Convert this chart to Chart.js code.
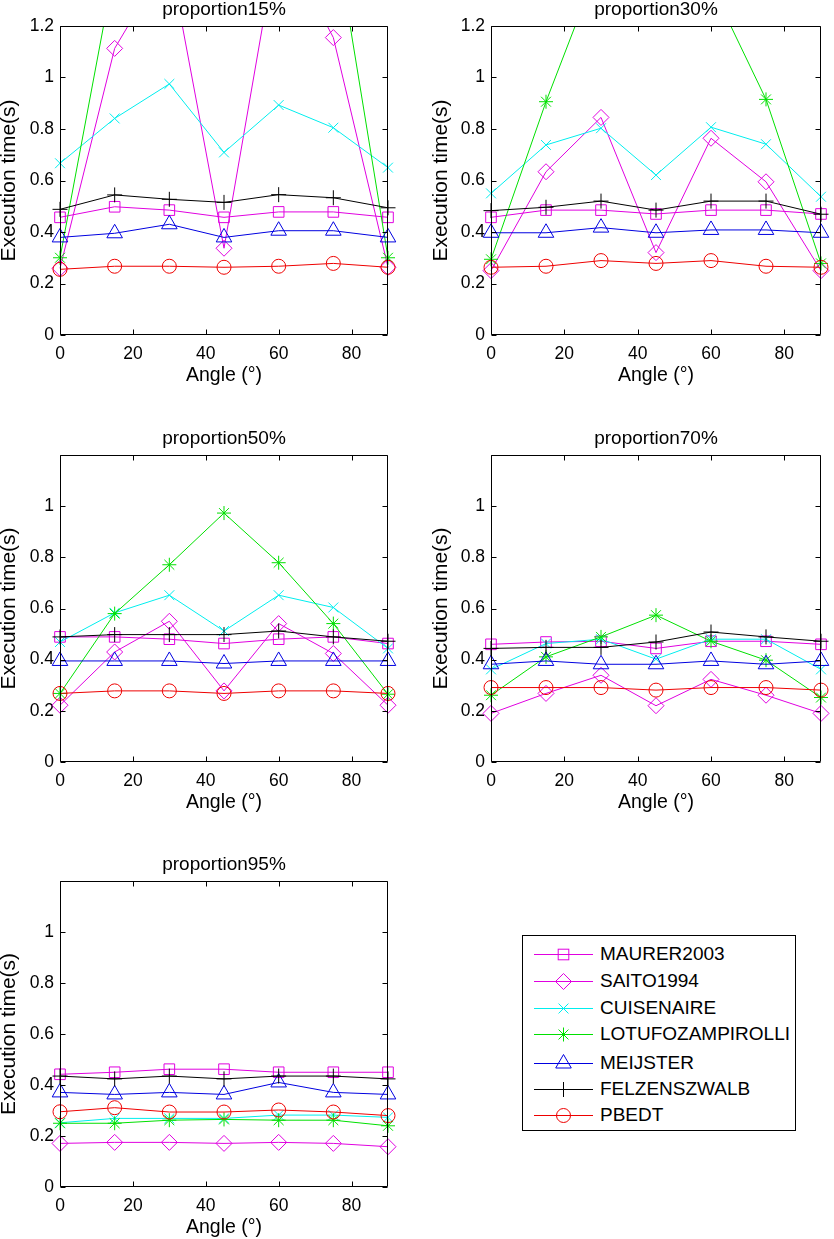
<!DOCTYPE html>
<html>
<head>
<meta charset="utf-8">
<script src="https://cdn.jsdelivr.net/npm/chart.js@4/dist/chart.umd.min.js"></script>
<style>
  body { margin: 0; background: #fff; width: 834px; height: 1239px; position: relative; overflow: hidden;
         font-family: "Liberation Sans", Arial, sans-serif; }
  .panel { position: absolute; }
  #legend { position: absolute; left: 522px; top: 935px; width: 272px; height: 194px;
            border: 1px solid #000; background: #fff; }
  .row { position: absolute; left: 0; height: 26px; width: 272px; }
  .row svg { position: absolute; left: 0; top: 0; }
  .row span { position: absolute; left: 77px; top: 0; line-height: 26px; font-size: 19px; color: #000; }
</style>
</head>
<body>
<div class="panel" style="left:0;top:0;width:400px;height:385px"><canvas id="c15"></canvas></div>
<div class="panel" style="left:432px;top:0;width:402px;height:385px"><canvas id="c30"></canvas></div>
<div class="panel" style="left:0;top:429px;width:400px;height:383px"><canvas id="c50"></canvas></div>
<div class="panel" style="left:432px;top:429px;width:402px;height:383px"><canvas id="c70"></canvas></div>
<div class="panel" style="left:0;top:855px;width:400px;height:382px"><canvas id="c95"></canvas></div>
<div id="legend"></div>

<script>
const FONT = "'Liberation Sans', Arial, sans-serif";

const angles = [0, 15, 30, 45, 60, 75, 90];
const methods = ["MAURER2003", "SAITO1994", "CUISENAIRE", "LOTUFOZAMPIROLLI", "MEIJSTER", "FELZENSZWALB", "PBEDT"];
const yTicks = [0, 0.2, 0.4, 0.6, 0.8, 1, 1.2];
const xTicks = [0, 20, 40, 60, 80];

// proportion 15%
const maurer15 = [0.457, 0.498, 0.485, 0.457, 0.478, 0.478, 0.457];
const saito15 = [0.259, 1.113, 1.47, 0.337, 1.56, 1.155, 0.263];
const cuisenaire15 = [0.667, 0.841, 0.975, 0.709, 0.893, 0.805, 0.650];
const lotufo15 = [0.30, 1.43, 1.9, 2.1, 1.9, 1.60, 0.30];
const meijster15 = [0.379, 0.395, 0.43, 0.379, 0.405, 0.405, 0.379];
const felz15 = [0.488, 0.544, 0.527, 0.515, 0.545, 0.533, 0.494];
const pbedt15 = [0.255, 0.267, 0.267, 0.263, 0.267, 0.278, 0.263];

// proportion 30%
const maurer30 = [0.457, 0.485, 0.485, 0.47, 0.485, 0.485, 0.47];
const saito30 = [0.25, 0.634, 0.845, 0.32, 0.764, 0.595, 0.25];
const cuisenaire30 = [0.55, 0.738, 0.803, 0.621, 0.807, 0.741, 0.537];
const lotufo30 = [0.294, 0.906, 1.46, 1.7, 1.36, 0.915, 0.278];
const meijster30 = [0.397, 0.397, 0.417, 0.397, 0.408, 0.408, 0.397];
const felz30 = [0.483, 0.496, 0.52, 0.485, 0.52, 0.52, 0.469];
const pbedt30 = [0.263, 0.267, 0.289, 0.278, 0.289, 0.267, 0.263];

// proportion 50%
const maurer50 = [0.489, 0.489, 0.48, 0.463, 0.48, 0.489, 0.463];
const saito50 = [0.222, 0.43, 0.55, 0.278, 0.541, 0.424, 0.222];
const cuisenaire50 = [0.469, 0.583, 0.652, 0.512, 0.652, 0.604, 0.444];
const lotufo50 = [0.268, 0.58, 0.771, 0.973, 0.779, 0.541, 0.265];
const meijster50 = [0.395, 0.395, 0.395, 0.385, 0.395, 0.395, 0.395];
const felz50 = [0.489, 0.498, 0.498, 0.498, 0.512, 0.489, 0.472];
const pbedt50 = [0.268, 0.278, 0.278, 0.268, 0.278, 0.278, 0.268];

// proportion 70%
const maurer70 = [0.46, 0.469, 0.472, 0.444, 0.472, 0.472, 0.46];
const saito70 = [0.19, 0.268, 0.339, 0.22, 0.323, 0.261, 0.19];
const cuisenaire70 = [0.362, 0.463, 0.48, 0.402, 0.48, 0.48, 0.362];
const lotufo70 = [0.261, 0.411, 0.489, 0.574, 0.472, 0.398, 0.252];
const meijster70 = [0.382, 0.395, 0.382, 0.382, 0.395, 0.382, 0.395];
const felz70 = [0.444, 0.448, 0.448, 0.469, 0.508, 0.489, 0.472];
const pbedt70 = [0.291, 0.291, 0.291, 0.281, 0.291, 0.291, 0.281];

// proportion 95%
const maurer95 = [0.442, 0.45, 0.462, 0.462, 0.45, 0.45, 0.45];
const saito95 = [0.171, 0.175, 0.175, 0.171, 0.175, 0.171, 0.158];
const cuisenaire95 = [0.252, 0.269, 0.269, 0.269, 0.282, 0.282, 0.273];
const lotufo95 = [0.25, 0.25, 0.262, 0.265, 0.262, 0.262, 0.24];
const meijster95 = [0.371, 0.363, 0.371, 0.363, 0.41, 0.371, 0.363];
const felz95 = [0.435, 0.424, 0.435, 0.424, 0.435, 0.435, 0.424];
const pbedt95 = [0.295, 0.311, 0.294, 0.294, 0.302, 0.294, 0.28];

// line colour and marker for each method (same order as methods)
const styles = [
  { color: "#e000e0", point: "rect", r: 7.5 },
  { color: "#e000e0", point: "rectRot", r: 8 },
  { color: "#00eeee", point: "crossRot", r: 7 },
  { color: "#00e000", point: "star", r: 7 },
  { color: "#0000e0", point: "triangle", r: 9 },
  { color: "#000000", point: "cross", r: 7.5 },
  { color: "#ee0000", point: "circle", r: 7 }
];

const panels = [
  { id: "c15", title: "proportion15%", axisW: 60, padRight: 12, showTop: true,
    series: [maurer15, saito15, cuisenaire15, lotufo15, meijster15, felz15, pbedt15] },
  { id: "c30", title: "proportion30%", axisW: 59, padRight: 13, showTop: true,
    series: [maurer30, saito30, cuisenaire30, lotufo30, meijster30, felz30, pbedt30] },
  { id: "c50", title: "proportion50%", axisW: 60, padRight: 12, showTop: false,
    series: [maurer50, saito50, cuisenaire50, lotufo50, meijster50, felz50, pbedt50] },
  { id: "c70", title: "proportion70%", axisW: 59, padRight: 13, showTop: false,
    series: [maurer70, saito70, cuisenaire70, lotufo70, meijster70, felz70, pbedt70] },
  { id: "c95", title: "proportion95%", axisW: 60, padRight: 12, showTop: false,
    series: [maurer95, saito95, cuisenaire95, lotufo95, meijster95, felz95, pbedt95] }
];

// matlab style box with inward ticks on all four sides
const boxTicks = {
  id: "boxTicks",
  afterDatasetsDraw(chart) {
    const { ctx, chartArea: a, scales: { x, y } } = chart;
    const L = Math.round(a.left) + 0.5, R = Math.round(a.right) - 0.5;
    const T = Math.round(a.top) + 0.5, B = Math.round(a.bottom) - 0.5;
    ctx.save();
    ctx.strokeStyle = "#000";
    ctx.lineWidth = 1;
    ctx.beginPath();
    ctx.rect(L, T, R - L, B - T);
    xTicks.forEach(v => {
      const px = Math.round(x.getPixelForValue(v)) + 0.5;
      ctx.moveTo(px, B); ctx.lineTo(px, B - 5);
      ctx.moveTo(px, T); ctx.lineTo(px, T + 5);
    });
    yTicks.forEach(v => {
      const py = Math.round(y.getPixelForValue(v)) + 0.5;
      ctx.moveTo(L, py); ctx.lineTo(L + 5, py);
      ctx.moveTo(R, py); ctx.lineTo(R - 5, py);
    });
    ctx.stroke();
    ctx.restore();
  }
};

// title centred over the plot box, not over the whole canvas
function titlePlugin(text) {
  return {
    id: "panelTitle",
    afterDraw(chart) {
      const { ctx, chartArea: a } = chart;
      ctx.save();
      ctx.fillStyle = "#000";
      ctx.font = "19px " + FONT;
      ctx.textAlign = "center";
      ctx.textBaseline = "middle";
      ctx.fillText(text, (a.left + a.right) / 2, a.top - 16);
      ctx.restore();
    }
  };
}

function makePanel(p) {
  return new Chart(document.getElementById(p.id), {
    type: "line",
    data: {
      datasets: methods.map((name, i) => ({
        label: name,
        data: angles.map((a, j) => ({ x: a, y: p.series[i][j] })),
        borderColor: styles[i].color,
        borderWidth: 1,
        pointStyle: styles[i].point,
        pointRadius: styles[i].r,
        pointBorderColor: styles[i].color,
        pointBackgroundColor: "rgba(0,0,0,0)",
        pointBorderWidth: 1,
        tension: 0,
        order: methods.length - i,
        clip: { left: 12, right: 12, top: 0, bottom: 12 }
      }))
    },
    options: {
      responsive: true,
      maintainAspectRatio: false,
      animation: false,
      events: [],
      layout: { padding: { left: 0, right: p.padRight, top: 26, bottom: 0 } },
      plugins: {
        legend: { display: false },
        tooltip: { enabled: false },
        title: { display: false }
      },
      scales: {
        x: {
          type: "linear", min: 0, max: 90,
          grid: { display: false, drawTicks: false },
          border: { display: false },
          ticks: {
            stepSize: 20, color: "#000", padding: 9, maxRotation: 0, autoSkip: false,
            font: { family: FONT, size: 17.5 },
            callback: v => (xTicks.includes(v) ? String(v) : "")
          },
          title: {
            display: true, text: "Angle (°)", color: "#000",
            font: { family: FONT, size: 19.5, lineHeight: 1 }, padding: 0
          },
          afterFit: s => { s.height = 50; }
        },
        y: {
          min: 0, max: 1.2,
          grid: { display: false, drawTicks: false },
          border: { display: false },
          ticks: {
            stepSize: 0.2, color: "#000", padding: 6,
            font: { family: FONT, size: 17.5 },
            callback: v => (v > 1.1 && !p.showTop) ? "" : String(Math.round(v * 10) / 10)
          },
          title: {
            display: true, text: "Execution time(s)", color: "#000",
            font: { family: FONT, size: 21, lineHeight: 0.9 }, padding: 0
          },
          afterFit: s => { s.width = p.axisW; }
        }
      }
    },
    plugins: [boxTicks, titlePlugin(p.title)]
  });
}

panels.forEach(makePanel);

// legend: line sample with marker, then the method name
function markerSvg(style, cx, cy) {
  const c = style.color, r = style.r;
  const a = `stroke="${c}" stroke-width="1" fill="none"`;
  switch (style.point) {
    case "rect": {
      const h = r * Math.SQRT1_2;
      return `<rect x="${cx - h}" y="${cy - h}" width="${2 * h}" height="${2 * h}" ${a}/>`;
    }
    case "rectRot":
      return `<polygon points="${cx - r},${cy} ${cx},${cy - r} ${cx + r},${cy} ${cx},${cy + r}" ${a}/>`;
    case "crossRot": {
      const h = r * Math.SQRT1_2;
      return `<path d="M${cx - h} ${cy - h}L${cx + h} ${cy + h}M${cx - h} ${cy + h}L${cx + h} ${cy - h}" ${a}/>`;
    }
    case "star": {
      const h = r * Math.SQRT1_2;
      return `<path d="M${cx - h} ${cy - h}L${cx + h} ${cy + h}M${cx - h} ${cy + h}L${cx + h} ${cy - h}M${cx} ${cy - r}L${cx} ${cy + r}M${cx - r} ${cy}L${cx + r} ${cy}" ${a}/>`;
    }
    case "triangle": {
      const w = r * Math.sqrt(3) / 2;
      return `<polygon points="${cx},${cy - r} ${cx + w},${cy + r / 2} ${cx - w},${cy + r / 2}" ${a}/>`;
    }
    case "cross":
      return `<path d="M${cx} ${cy - r}L${cx} ${cy + r}" ${a}/>`;
    default:
      return `<circle cx="${cx}" cy="${cy}" r="${r}" ${a}/>`;
  }
}

const legend = document.getElementById("legend");
const rowTops = [5, 32, 58.5, 85, 113.5, 140, 166];
methods.forEach((name, i) => {
  const row = document.createElement("div");
  row.className = "row";
  row.style.top = rowTops[i] + "px";
  const cy = 13;
  row.innerHTML =
    `<svg width="76" height="26"><line x1="11" y1="${cy + 0.5}" x2="70" y2="${cy + 0.5}" stroke="${styles[i].color}" stroke-width="1"/>` +
    markerSvg(styles[i], 40.5, cy + 0.5) + `</svg><span>${name}</span>`;
  legend.appendChild(row);
});
</script>
</body>
</html>
